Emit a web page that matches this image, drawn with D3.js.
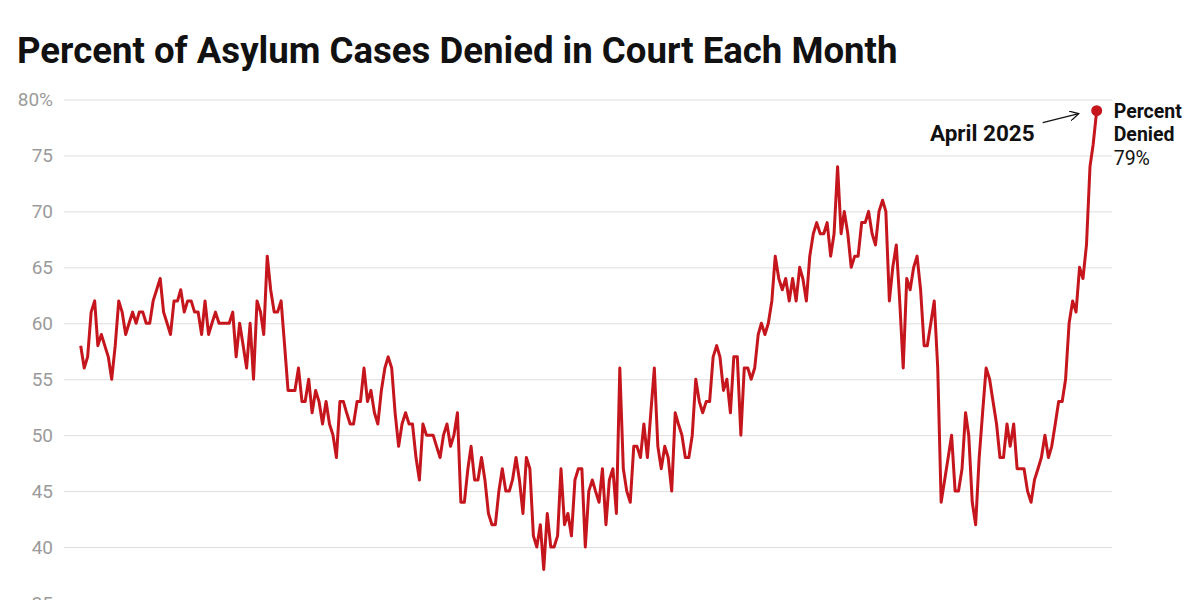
<!DOCTYPE html>
<html>
<head>
<meta charset="utf-8">
<script src="https://cdn.jsdelivr.net/npm/d3@7"></script>
<style>
  body { margin: 0; background: #fff; }
  svg { display: block; font-family: Roboto, "Noto Sans", sans-serif; }
</style>
</head>
<body>
<div id="chart"></div>
<script>
var width = 1200
var height = 600

// monthly share of asylum decisions that were denials, Oct 2000 - Apr 2025
var firstMonth = "2000-10"
var lastMonth = "2025-04"
var denied = [
  58, 56, 57, 61, 62, 58, 59, 58, 57, 55, 58, 62, 61, 59, 60, 61, 60, 61, 61, 60,
  60, 62, 63, 64, 61, 60, 59, 62, 62, 63, 61, 62, 62, 61, 61, 59, 62, 59, 60, 61,
  60, 60, 60, 60, 61, 57, 60, 58, 56, 60, 55, 62, 61, 59, 66, 63, 61, 61, 62, 58,
  54, 54, 54, 56, 53, 53, 55, 52, 54, 53, 51, 53, 51, 50, 48, 53, 53, 52, 51, 51,
  53, 53, 56, 53, 54, 52, 51, 54, 56, 57, 56, 52, 49, 51, 52, 51, 51, 48, 46, 51,
  50, 50, 50, 49, 48, 50, 51, 49, 50, 52, 44, 44, 47, 49, 46, 46, 48, 46, 43, 42,
  42, 45, 47, 45, 45, 46, 48, 46, 43, 48, 47, 41, 40, 42, 38, 43, 40, 40, 41, 47,
  42, 43, 41, 46, 47, 47, 40, 45, 46, 45, 44, 47, 42, 46, 47, 43, 56, 47, 45, 44,
  49, 49, 48, 51, 48, 52, 56, 49, 47, 49, 48, 45, 52, 51, 50, 48, 48, 50, 55, 53,
  52, 53, 53, 57, 58, 57, 54, 55, 52, 57, 57, 50, 56, 56, 55, 56, 59, 60, 59, 60,
  62, 66, 64, 63, 64, 62, 64, 62, 65, 64, 62, 66, 68, 69, 68, 68, 69, 66, 68, 74,
  68, 70, 68, 65, 66, 66, 69, 69, 70, 68, 67, 70, 71, 70, 62, 65, 67, 62, 56, 64,
  63, 65, 66, 63, 58, 58, 60, 62, 56, 44, 46, 48, 50, 45, 45, 47, 52, 50, 44, 42,
  48, 52, 56, 55, 53, 51, 48, 48, 51, 49, 51, 47, 47, 47, 45, 44, 46, 47, 48, 50,
  48, 49, 51, 53, 53, 55, 60, 62, 61, 65, 64, 67, 74, 76, 79
]
var yTicks = [35, 40, 45, 50, 55, 60, 65, 70, 75, 80]
var title = "Percent of Asylum Cases Denied in Court Each Month"
var lastLabel = "April 2025"
var seriesLabel = ["Percent", "Denied"]

var red = "#c5161d"

var parseMonth = d3.timeParse("%Y-%m")
var months = d3.timeMonth.range(parseMonth(firstMonth),
    d3.timeMonth.offset(parseMonth(lastMonth), 1))
var data = months.map((m, i) => ({date: m, value: denied[i]}))

var svg = d3.select("#chart").append("svg")
    .attr("width", width)
    .attr("height", height)

svg.append("text")
    .attr("x", 17)
    .attr("y", 63)
    .attr("font-size", 36.6)
    .attr("font-weight", 700)
    .attr("fill", "#111")
    .text(title)

var x = d3.scaleTime()
    .domain(d3.extent(months))
    .range([80.7, 1096.7])

var y = d3.scaleLinear()
    .domain([35, 80])
    .range([603, 99.5])

// grid + labels
var gridLeft = 64, gridRight = 1112
var yAxis = svg.append("g")
    .attr("transform", "translate(" + gridLeft + ",0)")
    .call(d3.axisLeft(y)
        .tickValues(yTicks)
        .tickSize(-(gridRight - gridLeft))
        .tickPadding(11)
        .tickFormat(d => d == 80 ? d + "%" : d))
yAxis.select(".domain").remove()
yAxis.selectAll(".tick line").attr("stroke", "#dedede")
yAxis.selectAll(".tick text")
    .attr("fill", "#9b9b9b")
    .attr("font-size", 19)
    .attr("font-family", "Roboto, sans-serif")

var line = d3.line()
    .x(d => x(d.date))
    .y(d => y(d.value))

svg.append("path")
    .datum(data)
    .attr("d", line)
    .attr("fill", "none")
    .attr("stroke", red)
    .attr("stroke-width", 3)
    .attr("stroke-linejoin", "round")

var last = data[data.length - 1]
var lx = x(last.date), ly = y(last.value)

svg.append("circle")
    .attr("cx", lx)
    .attr("cy", ly)
    .attr("r", 5.5)
    .attr("fill", red)

// annotation
svg.append("defs").append("marker")
    .attr("id", "arrow")
    .attr("viewBox", "0 0 10 10")
    .attr("refX", 9)
    .attr("refY", 5)
    .attr("markerWidth", 10)
    .attr("markerHeight", 10)
    .attr("markerUnits", "userSpaceOnUse")
    .attr("orient", "auto")
    .append("path")
    .attr("d", "M0,0 L9,5 L0,10")
    .attr("fill", "none")
    .attr("stroke", "#111")
    .attr("stroke-width", 1.3)

svg.append("line")
    .attr("x1", lx - 54)
    .attr("y1", ly + 12)
    .attr("x2", lx - 18)
    .attr("y2", ly + 3)
    .attr("stroke", "#111")
    .attr("stroke-width", 1.3)
    .attr("marker-end", "url(#arrow)")

svg.append("text")
    .attr("x", lx - 62)
    .attr("y", ly + 30)
    .attr("text-anchor", "end")
    .attr("font-size", 22.5)
    .attr("font-weight", 700)
    .attr("fill", "#111")
    .text(lastLabel)

var lab = svg.append("text")
    .attr("x", lx + 17)
    .attr("y", ly + 7)
    .attr("font-size", 19.5)
    .attr("fill", "#111")
lab.append("tspan").attr("font-weight", 700).text(seriesLabel[0])
lab.append("tspan").attr("x", lx + 17).attr("dy", 23.5).attr("font-weight", 700).text(seriesLabel[1])
lab.append("tspan").attr("x", lx + 17).attr("dy", 23.5).text(d3.format(".0f")(last.value) + "%")
</script>
</body>
</html>
